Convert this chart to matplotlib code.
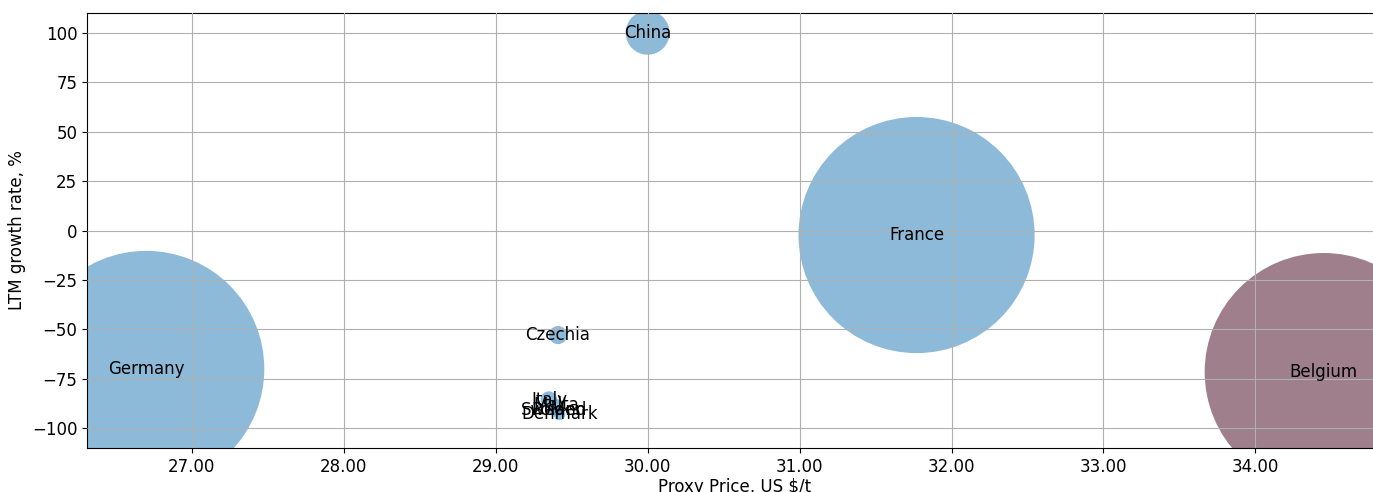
import matplotlib
matplotlib.use("Agg")
import matplotlib.pyplot as plt

countries = ["Germany", "France", "Belgium", "China", "Czechia", "Italy", "Malta", "Sweden", "Poland", "Denmark"]
price = [26.70, 31.77, 34.45, 30.00, 29.41, 29.35, 29.40, 29.38, 29.42, 29.42]
growth = [-70.0, -2.3, -71.6, 100.0, -52.9, -85.5, -88.0, -91.0, -91.0, -93.0]
volume = [28900, 28900, 29400, 1000, 170, 140, 60, 50, 50, 70]
colors = ["#1f77b4"] * 2 + ["#40001a"] + ["#1f77b4"] * 7

fig = plt.figure(figsize=(13.73, 4.92), dpi=100)
ax = fig.add_axes([87 / 1373, 44 / 492, (1383 - 87) / 1373, 435 / 492])
ax.scatter(price, growth, s=volume, c=colors, alpha=0.5, linewidths=0, zorder=1)
for n, x, y in zip(countries, price, growth):
    ax.text(x, y, n, ha="center", va="center", fontsize=12, zorder=3)
ax.set_xlim(26.31, 34.84)
ax.set_ylim(-110, 110)
ax.set_xticks([27, 28, 29, 30, 31, 32, 33, 34])
ax.xaxis.set_major_formatter(matplotlib.ticker.FormatStrFormatter("%.2f"))
ax.set_yticks([-100, -75, -50, -25, 0, 25, 50, 75, 100])
ax.tick_params(labelsize=12)
ax.set_axisbelow(False)
ax.grid(True, color="#b0b0b0", zorder=2)
ax.set_xlabel("Proxy Price, US $/t", fontsize=12, labelpad=2)
ax.set_ylabel("LTM growth rate, %", fontsize=12)
fig.savefig("out.png", dpi=100)
